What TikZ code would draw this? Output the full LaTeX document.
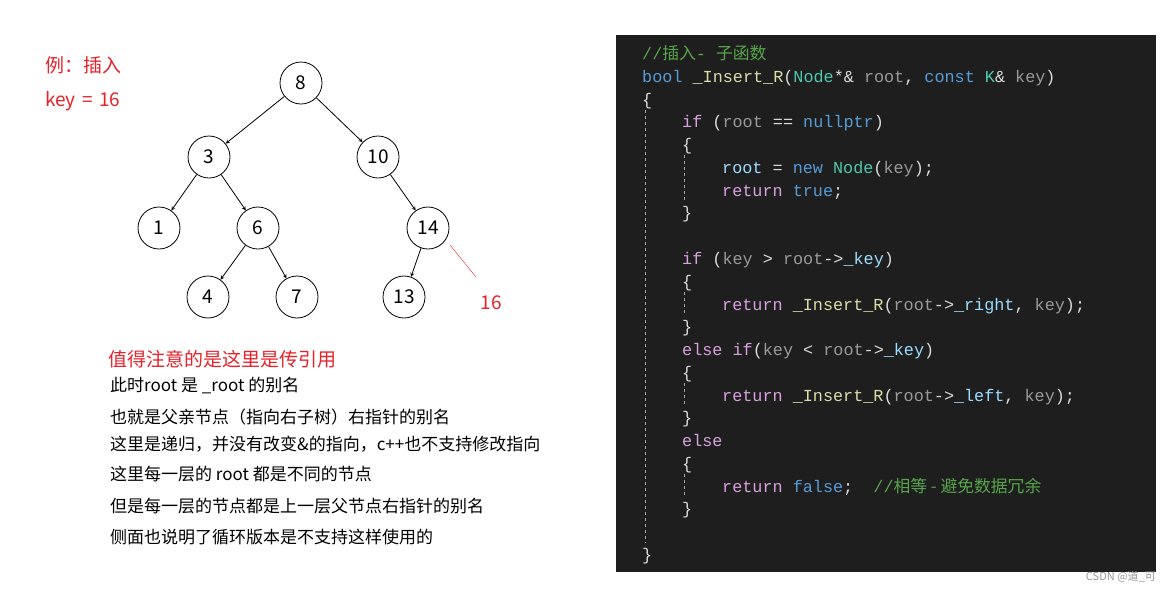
\documentclass[tikz,border=0pt]{standalone}
\usepackage{fontspec}
\setmainfont{Noto Sans CJK SC}
\setmonofont{Liberation Mono}
\newfontfamily\cjk{Noto Sans CJK SC}
\definecolor{bg}{HTML}{1E1E1E}
\definecolor{cm}{HTML}{57A64A}
\definecolor{kw}{HTML}{569CD6}
\definecolor{ct}{HTML}{D8A0DF}
\definecolor{ty}{HTML}{4EC9B0}
\definecolor{fn}{HTML}{DCDCAA}
\definecolor{vr}{HTML}{9CDCFE}
\definecolor{tx}{HTML}{DCDCDC}
\definecolor{pm}{HTML}{9A9A9A}
\definecolor{rd}{HTML}{E8212A}
\newcommand{\cdK}[1]{\textcolor{kw}{#1}}
\newcommand{\cdC}[1]{\textcolor{ct}{#1}}
\newcommand{\cdT}[1]{\textcolor{ty}{#1}}
\newcommand{\cdF}[1]{\textcolor{fn}{#1}}
\newcommand{\cdV}[1]{\textcolor{vr}{#1}}
\newcommand{\cdP}[1]{\textcolor{pm}{#1}}
\newcommand{\cdG}[1]{\textcolor{cm}{#1}}
\tikzset{
 tn/.style={circle,draw,thick,minimum size=42pt,inner sep=0pt,font=\fontsize{19}{19}\selectfont},
 ar/.style={-stealth,thick},
 cl/.style={anchor=base west,inner sep=0pt,text=tx,font=\ttfamily\fontsize{16.8}{16.8}\selectfont},
 lt/.style={anchor=base west,inner sep=0pt,font=\fontsize{17}{17}\selectfont},
 gd/.style={dashed,gray!70,thin}
}
\begin{document}
\begin{tikzpicture}[x=1pt,y=-1pt]
\useasboundingbox (0,0) rectangle (1171,590);
\fill[white] (0,0) rectangle (1171,590);
% tree
\node[tn] (n8) at (301,83) {8};
\node[tn] (n3) at (209,157) {3};
\node[tn] (n10) at (378,157) {10};
\node[tn] (n1) at (159,228) {1};
\node[tn] (n6) at (258,228) {6};
\node[tn] (n14) at (428,228) {14};
\node[tn] (n4) at (208,297) {4};
\node[tn] (n7) at (297,297) {7};
\node[tn] (n13) at (404,297) {13};
\draw[ar] (n8)--(n3); \draw[ar] (n8)--(n10);
\draw[ar] (n3)--(n1); \draw[ar] (n3)--(n6);
\draw[ar] (n10)--(n14);
\draw[ar] (n6)--(n4); \draw[ar] (n6)--(n7);
\draw[ar] (n14)--(n13);
\node[text=rd,font=\fontsize{19}{19}\selectfont] (n16) at (491,303) {16};
\coordinate (c16a) at (450,245); \coordinate (c16b) at (476,277);
\draw[rd,thin] (c16a)--(c16b);
% left texts
\node[lt,text=rd,font=\fontsize{19}{19}\selectfont] (t1) at (45,72) {例：插入};
\node[lt,text=rd,font=\fontsize{19}{19}\selectfont] (t2) at (45,106) {key\,\,=\,\,16};
\node[lt,text=rd,font=\fontsize{19}{19}\selectfont] (t3) at (108,366) {值得注意的是这里是传引用};
\node[lt] (t4) at (110,391) {此时root 是 \_root 的别名};
\node[lt] (t5) at (110,423) {也就是父亲节点（指向右子树）右指针的别名};
\node[lt] (t6) at (110,450) {这里是递归，并没有改变\&的指向，c++也不支持修改指向};
\node[lt] (t7) at (110,480) {这里每一层的 root 都是不同的节点};
\node[lt] (t8) at (110,512) {但是每一层的节点都是上一层父节点右指针的别名};
\node[lt] (t9) at (110,543) {侧面也说明了循环版本是不支持这样使用的};
% code panel
\fill[bg] (616,35) rectangle (1156,572);
\draw[gd] (645,110)--(645,543);
\draw[gd] (684,155)--(684,202); \draw[gd] (684,292)--(684,316);
\draw[gd] (684,383)--(684,407); \draw[gd] (684,474)--(684,498);
\node[cl] (L1) at (642,59) {\cdG{//{\cjk 插入}- {\cjk 子函数}}};
\node[cl] (L2) at (642,82) {\cdK{bool} \cdF{\_Insert\_R}(\cdT{Node}*\& \cdP{root}, \cdK{const} \cdT{K}\& \cdP{key})};
\node[cl] (L3) at (642,105) {\{};
\node[cl] (L4) at (682,127) {\cdC{if} (\cdP{root} == \cdK{nullptr})};
\node[cl] (L5) at (682,150) {\{};
\node[cl] (L6) at (722,173) {\cdV{root} = \cdK{new} \cdT{Node}(\cdP{key});};
\node[cl] (L7) at (722,196) {\cdC{return} \cdK{true};};
\node[cl] (L8) at (682,218) {\}};
\node[cl] (L9) at (682,264) {\cdC{if} (\cdP{key} > \cdP{root}->\cdV{\_key})};
\node[cl] (L10) at (682,287) {\{};
\node[cl] (L11) at (722,310) {\cdC{return} \cdF{\_Insert\_R}(\cdP{root}->\cdV{\_right}, \cdP{key});};
\node[cl] (L12) at (682,332) {\}};
\node[cl] (L13) at (682,355) {\cdC{else} \cdC{if}(\cdP{key} < \cdP{root}->\cdV{\_key})};
\node[cl] (L14) at (682,378) {\{};
\node[cl] (L15) at (722,401) {\cdC{return} \cdF{\_Insert\_R}(\cdP{root}->\cdV{\_left}, \cdP{key});};
\node[cl] (L16) at (682,423) {\}};
\node[cl] (L17) at (682,446) {\cdC{else}};
\node[cl] (L18) at (682,469) {\{};
\node[cl] (L19) at (722,492) {\cdC{return} \cdK{false};\ \ \cdG{//{\cjk 相等\ -\ 避免数据冗余}}};
\node[cl] (L20) at (682,514) {\}};
\node[cl] (L21) at (642,560) {\}};
\node[anchor=base east,inner sep=0pt,text=gray!80,font=\fontsize{11}{11}\selectfont] (wm) at (1156,580) {CSDN @道\_可};
\end{tikzpicture}
\end{document}
